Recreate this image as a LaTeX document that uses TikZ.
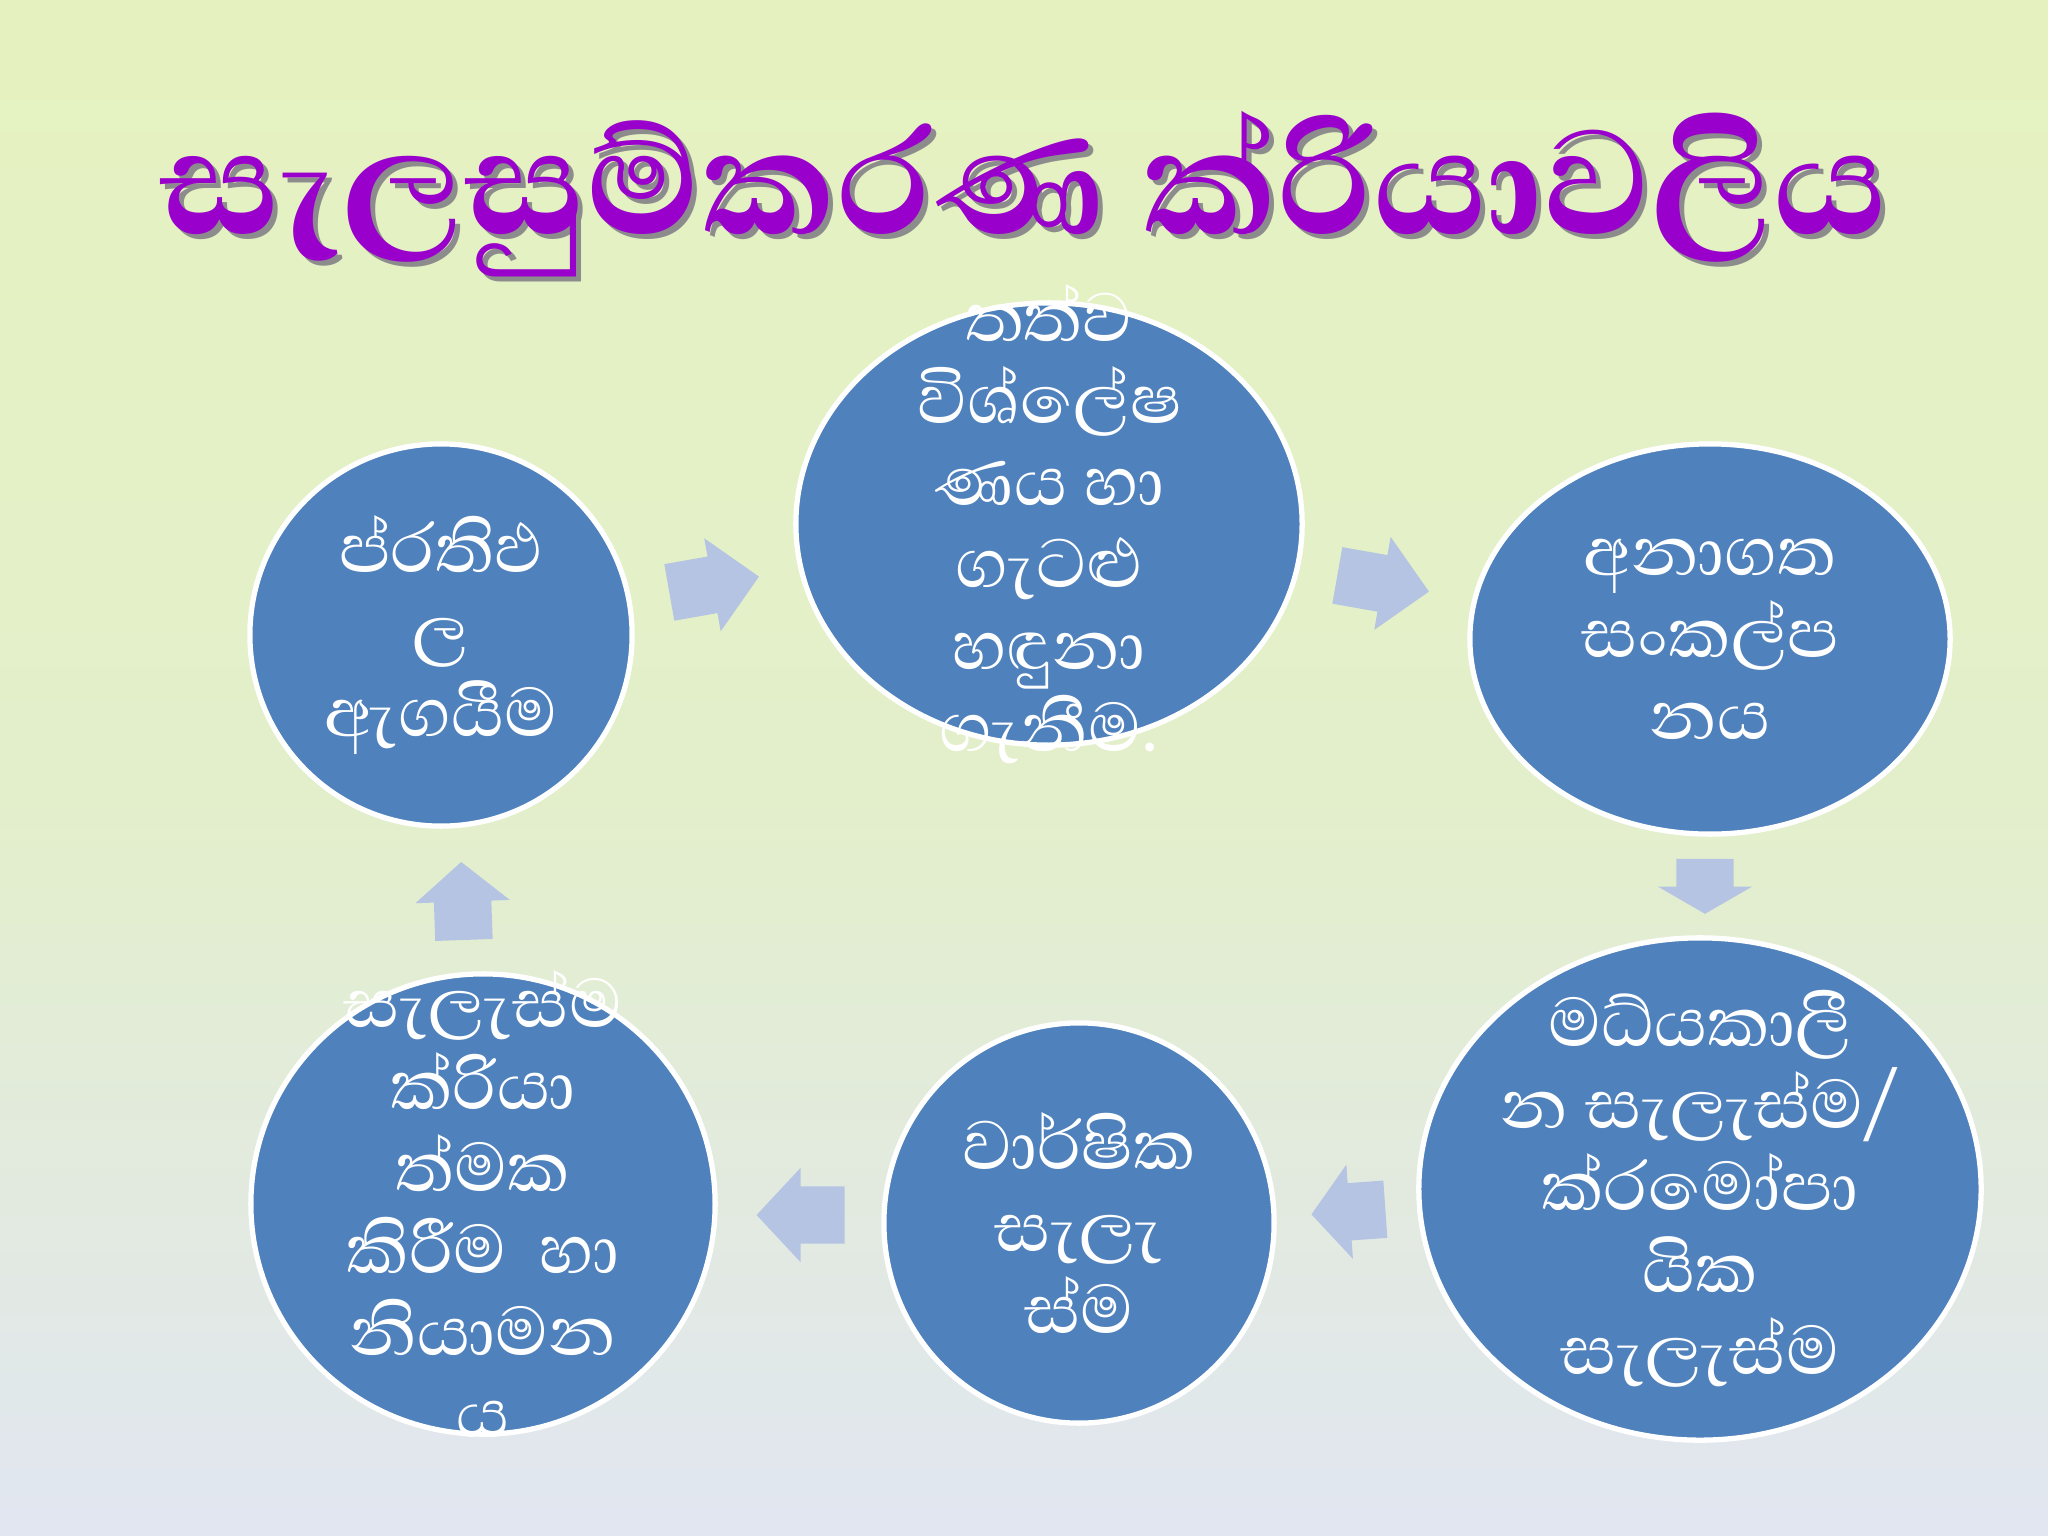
\documentclass[tikz,border=0pt]{standalone}
\usepackage{fontspec}
\newfontfamily\sinhala[Script=Sinhala]{Abhaya Libre}
\IfFontExistsTF{Abhaya Libre ExtraBold}
  {\newfontfamily\sinhalatitle[Script=Sinhala]{Abhaya Libre ExtraBold}}
  {\newfontfamily\sinhalatitle[Script=Sinhala]{Abhaya Libre}}
\usepackage{tikz}
\usetikzlibrary{positioning,shapes.geometric,shapes.arrows}

\definecolor{bgtop}{RGB}{229,242,191}
\definecolor{bgmid}{RGB}{227,239,203}
\definecolor{bgbot}{RGB}{225,230,241}
\definecolor{stageblue}{RGB}{79,129,189}
\definecolor{flowblue}{RGB}{181,196,226}
\definecolor{titlepurple}{RGB}{153,0,204}

\begin{document}
\begin{tikzpicture}
    [%%%%%%%%%%%%%%%%%%%%%%%%%%%%%%
    x=0.01cm, y=-0.01cm,
    stage/.style={ellipse,draw=white,line width=1.5pt,fill=stageblue,inner sep=0pt},
    stagetext/.style={text=white,align=center,inner sep=0pt,font=\sinhala\fontsize{25}{23.3}\selectfont},
    titletext/.style={font=\sinhalatitle\bfseries\fontsize{54}{60}\selectfont},
    flow/.style={single arrow,fill=flowblue,inner xsep=0pt,inner ysep=0.28cm,minimum width=0.93cm,single arrow head extend=0.185cm},
    ]%%%%%%%%%%%%%%%%%%%%%%%%%%%%%%

    \useasboundingbox (0,0) rectangle (2048,1536);
    \shade[top color=bgtop,bottom color=bgmid] (0,0) rectangle (2048,800);
    \shade[top color=bgmid,bottom color=bgbot] (0,800) rectangle (2048,1536);

    % title
    \node[titletext,text=black!45] at (1029,199) (title_shadow) {සැලසුම්කරණ ක්රියාවලිය};
    \node[titletext,text=titlepurple] at (1024,194) (title) {සැලසුම්කරණ ක්රියාවලිය};

    % review
    \node[stage,minimum width=3.82cm,minimum height=3.82cm] at (441,635) (review) {};
    \node[stagetext] at (review) (review_text) {ප්රතිඵ\\ල\\ඇගයීම};

    % analysis
    \node[stage,minimum width=5.06cm,minimum height=4.42cm] at (1049,524) (analysis) {};
    \node[stagetext] at (analysis) (analysis_text) {තත්ව\\විශ්ලේෂ\\ණය හා\\ගැටළු\\හඳුනා\\ගැනීම.};

    % vision
    \node[stage,minimum width=4.80cm,minimum height=3.90cm] at (1710,639) (vision) {};
    \node[stagetext] at (vision) (vision_text) {අනාගත\\සංකල්ප\\නය};

    % midterm
    \node[stage,minimum width=5.62cm,minimum height=5.02cm] at (1700,1189) (midterm) {};
    \node[stagetext] at (midterm) (midterm_text) {මධ්යකාලී\\න සැලැස්ම/\\ක්රමෝපා\\යික\\සැලැස්ම};

    % annual
    \node[stage,minimum width=3.90cm,minimum height=4.00cm] at (1079,1223) (annual) {};
    \node[stagetext] at (annual) (annual_text) {වාර්ෂික\\සැලැ\\ස්ම};

    % implement
    \node[stage,minimum width=4.64cm,minimum height=4.60cm] at (483,1204) (implement) {};
    \node[stagetext] at (implement) (implement_text) {සැලැස්ම\\ක්රියා\\ත්මක\\කිරීම~~හා\\නියාමන\\ය};

    % flow arrows
    \node[flow,minimum height=0.91cm,single arrow tip angle=90,rotate=10] at (700,587) (flow_a) {};
    \node[flow,minimum height=0.93cm,single arrow tip angle=90,rotate=-10] at (1369,581) (flow_b) {};
    \node[flow,minimum height=0.55cm,single arrow tip angle=120,rotate=-90] at (1705,878) (flow_c) {};
    \node[flow,minimum height=0.74cm,single arrow tip angle=102,rotate=184] at (1360,1211) (flow_d) {};
    \node[flow,minimum height=0.88cm,single arrow tip angle=94,rotate=180] at (814,1215) (flow_e) {};
    \node[flow,minimum height=0.78cm,single arrow tip angle=100,rotate=92] at (463,913) (flow_f) {};
\end{tikzpicture}
\end{document}
